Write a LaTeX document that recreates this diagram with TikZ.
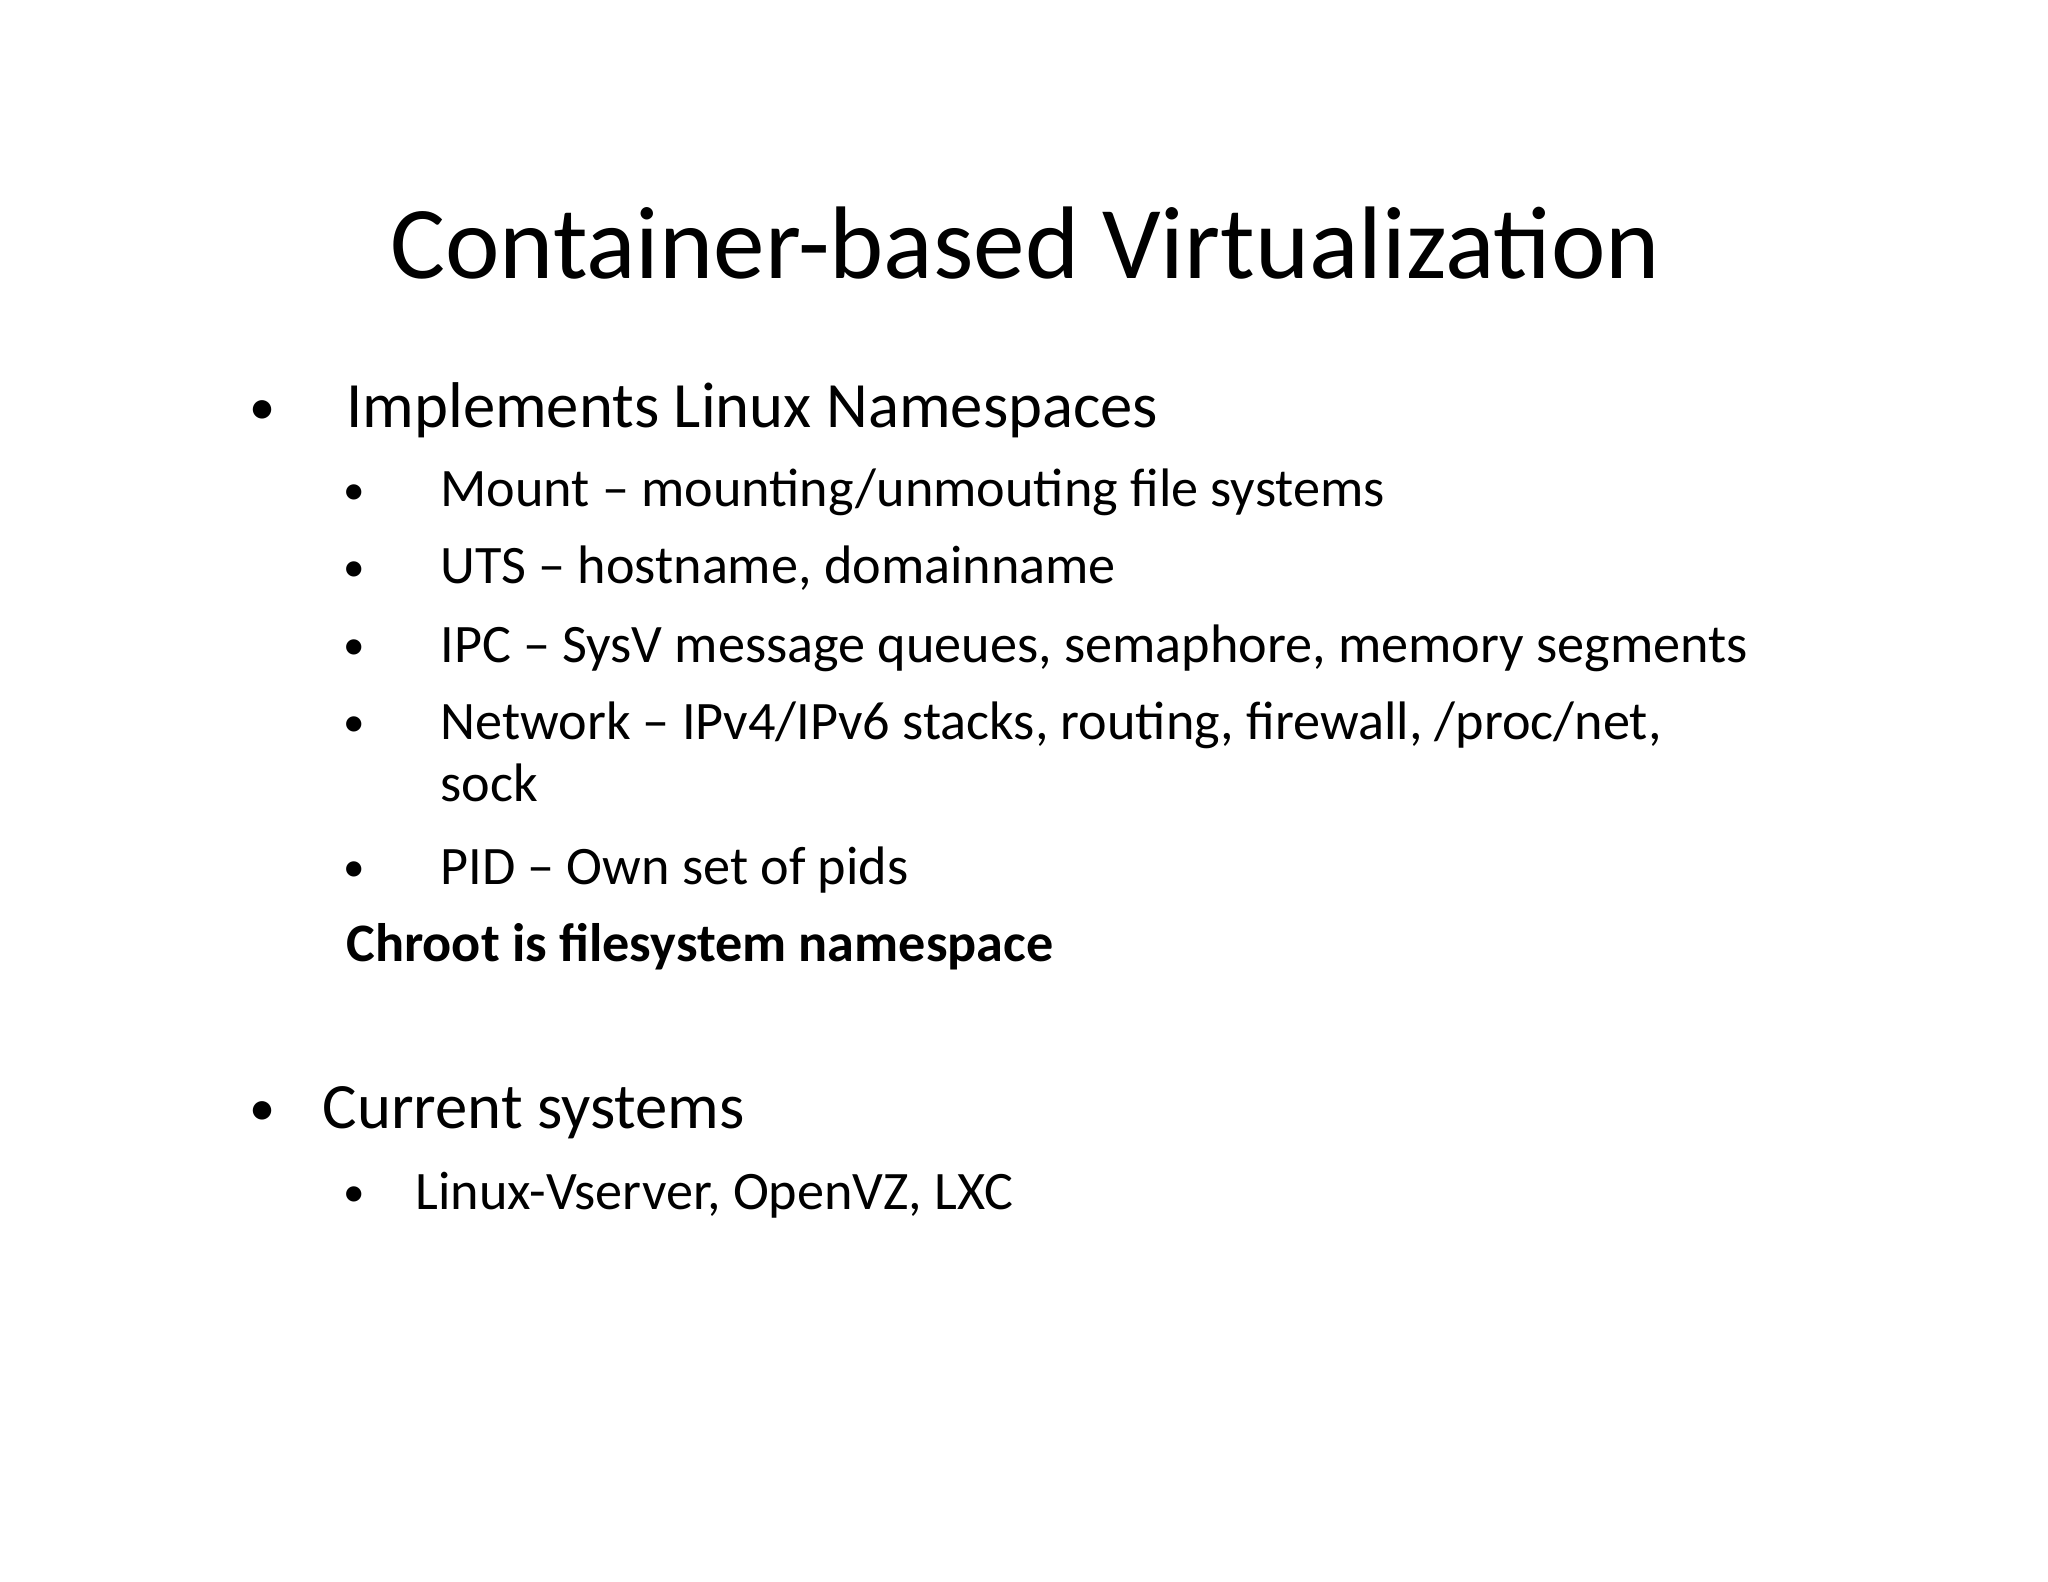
\documentclass[tikz,border=0pt]{standalone}
\usepackage{fontspec}
\setmainfont{Carlito}
\begin{document}
\begin{tikzpicture}[x=1pt,y=-1pt,
  txt/.style={anchor=base west,inner sep=0pt,font=\fontsize{#1}{#1}\selectfont},
  bul/.style={anchor=base,inner sep=0pt,font=\fontsize{#1}{#1}\selectfont}]
\useasboundingbox (0,0) rectangle (1568,1211);
\node[anchor=base,inner sep=0pt,font=\fontsize{79}{79}\selectfont] (title) at (785,213) {Container-based Virtualization};
\node[bul=40] (b1) at (201,325) {•};
\node[txt=49.5] (t1) at (265,327) {Implements Linux Namespaces};
\node[bul=33] (s1b) at (271,386) {•};
\node[txt=41.5] (s1) at (337,388) {Mount – mounting/unmouting file systems};
\node[bul=33] (s2b) at (271,445) {•};
\node[txt=41.5] (s2) at (337,447) {UTS – hostname, domainname};
\node[bul=33] (s3b) at (271,505) {•};
\node[txt=41.5] (s3) at (337,507) {IPC – SysV message queues, semaphore, memory segments};
\node[bul=33] (s4b) at (271,564) {•};
\node[txt=41.5] (s4) at (337,566) {Network – IPv4/IPv6 stacks, routing, firewall, /proc/net,};
\node[txt=41.5] (s4c) at (337,614) {sock};
\node[bul=33] (s5b) at (271,675) {•};
\node[txt=41.5] (s5) at (337,677) {PID – Own set of pids};
\node[txt=41.5,font=\fontsize{41.5}{41.5}\selectfont\bfseries] (ch) at (265,736) {Chroot is filesystem namespace};
\node[bul=40] (b2) at (201,862) {•};
\node[txt=49.5] (t2) at (247,864) {Current systems};
\node[bul=33] (c1b) at (271,924) {•};
\node[txt=41.5] (c1) at (318,926) {Linux-Vserver, OpenVZ, LXC};
\end{tikzpicture}
\end{document}
